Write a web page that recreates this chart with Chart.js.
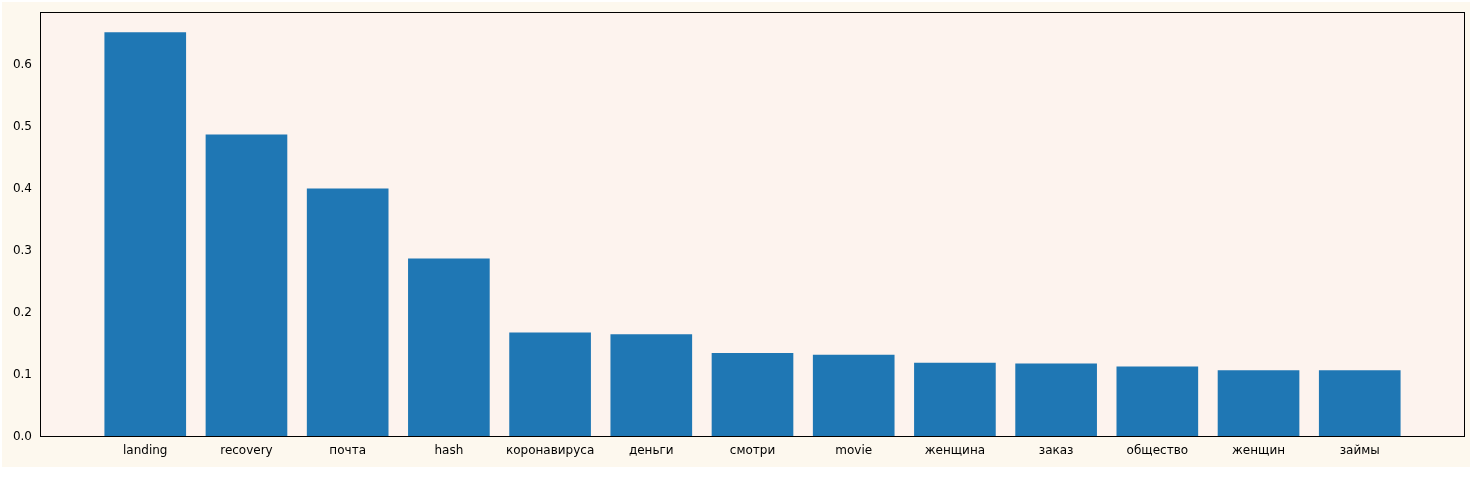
<!DOCTYPE html>
<html><head><meta charset="utf-8">
<script src="https://cdn.jsdelivr.net/npm/chart.js@4"></script>
<style>
html,body{margin:0;padding:0;background:#fff;}
#wrap{position:absolute;left:0;top:0;width:1476px;height:482px;}
#bg{position:absolute;left:2px;top:2px;width:1468px;height:465px;background:#fdf8ee;}
canvas{position:absolute;left:0;top:0;}
</style></head><body>
<div id="wrap"><div id="bg"></div><canvas id="c" width="1476" height="482"></canvas></div>
<script>
const categories = ["landing","recovery","почта","hash","коронавируса","деньги","смотри","movie","женщина","заказ","общество","женщин","займы"];
const values = [0.652,0.487,0.400,0.287,0.168,0.165,0.135,0.132,0.119,0.118,0.113,0.107,0.107];
const yTicks = [0,0.1,0.2,0.3,0.4,0.5,0.6];

const frame = {
  id:'frame',
  beforeDraw(ch){const a=ch.chartArea,c=ch.ctx;c.save();c.fillStyle='#fdf3ee';c.fillRect(a.left,a.top,a.right-a.left,a.bottom-a.top);c.restore();},
  afterDraw(ch){const a=ch.chartArea,c=ch.ctx;c.save();c.strokeStyle='#000';c.lineWidth=1;c.strokeRect(a.left+0.5,a.top+0.5,a.right-a.left-1,a.bottom-a.top-1);c.restore();}
};
const font={family:'DejaVu Sans',size:12};
new Chart(document.getElementById('c'),{
  type:'bar',
  data:{datasets:[{data:values.map((v,i)=>({x:i,y:v})),backgroundColor:'#1f77b4',barThickness:81,borderWidth:0}]},
  options:{
    responsive:false,animation:false,
    layout:{padding:{top:12,right:11,left:0,bottom:0}},
    plugins:{legend:{display:false},tooltip:{enabled:false}},
    scales:{
      x:{type:'linear',min:-1.04,max:13.04,offset:false,
        grid:{display:false,drawTicks:true,tickLength:4,tickColor:'#000'},
        border:{display:false},
        afterBuildTicks(s){s.ticks=categories.map((_,i)=>({value:i}));},
        ticks:{autoSkip:false,maxRotation:0,color:'#000',font,padding:3,callback:(v)=>categories[v]},
        afterFit(s){s.height=45;}},
      y:{min:0,max:0.685,
        grid:{display:false,drawTicks:true,tickLength:4,tickColor:'#000'},
        border:{display:false},
        afterBuildTicks(s){s.ticks=yTicks.map(v=>({value:v}));},
        ticks:{color:'#000',font,padding:4,callback:v=>v.toFixed(1)},
        afterFit(s){s.width=40;}}
    }
  },
  plugins:[frame]
});
</script></body></html>
